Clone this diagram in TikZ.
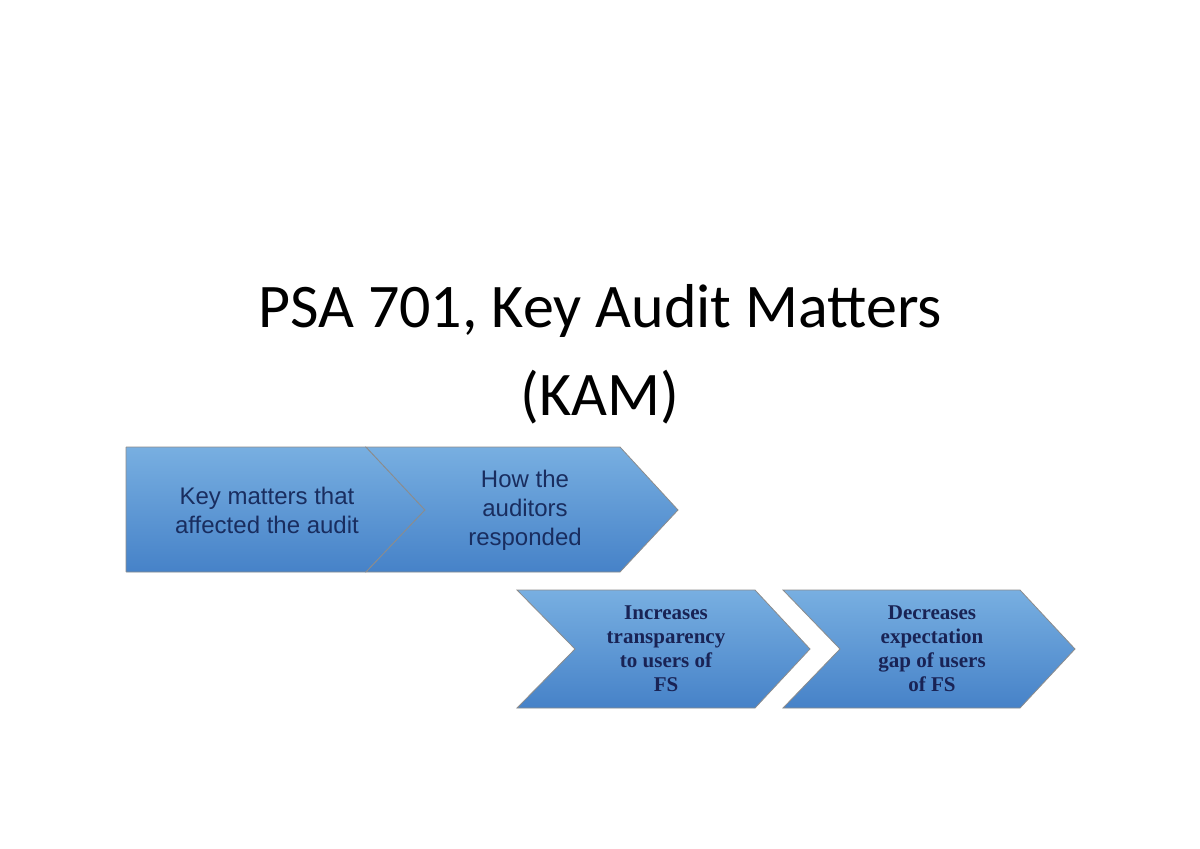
\documentclass[tikz,border=0pt]{standalone}
\usepackage{fontspec}
\setmainfont{Carlito}
\newfontfamily\arialf{Liberation Sans}
\newfontfamily\serf{Liberation Serif}
\begin{document}
\begin{tikzpicture}[x=1pt,y=-1pt,
  arr/.style={draw=black!55,line width=0.8pt,top color=blue!20!cyan!30!white!70!black!0,bottom color=blue!50!cyan!60!black!80,shading angle=0},
  chev/.style={draw=black!45,line width=0.8pt,top color={rgb,255:red,120;green,175;blue,225},bottom color={rgb,255:red,70;green,130;blue,200}},
  t1/.style={font=\arialf\fontsize{24}{29}\selectfont,text={rgb,255:red,25;green,45;blue,95},align=center},
  t2/.style={font=\serf\bfseries\fontsize{21}{24}\selectfont,text={rgb,255:red,25;green,35;blue,85},align=center}]
\useasboundingbox[fill=white] (0,0) rectangle (1200,849);
\node[font=\fontsize{62}{88}\selectfont,align=center] (title) at (600,354) {PSA 701, Key Audit Matters\\(KAM)};
\draw[chev,rounded corners=0.5pt] (126,447) -- (366,447) -- (425,510) -- (366,572) -- (126,572) -- cycle;
\draw[chev] (366,447) -- (620,447) -- (678,510) -- (620,572) -- (366,572) -- (425,510) -- cycle;
\draw[chev] (517,590) -- (755,590) -- (810,649) -- (755,708) -- (517,708) -- (575,649) -- cycle;
\draw[chev] (783,590) -- (1020,590) -- (1075,649) -- (1020,708) -- (783,708) -- (840,649) -- cycle;
\node[t1] (a) at (267,510) {Key matters that\\affected the audit};
\node[t1] (b) at (525,510) {How the\\auditors\\responded};
\node[t2] (c) at (666,649) {Increases\\transparency\\to users of\\FS};
\node[t2] (d) at (932,649) {Decreases\\expectation\\gap of users\\of FS};
\end{tikzpicture}
\end{document}
